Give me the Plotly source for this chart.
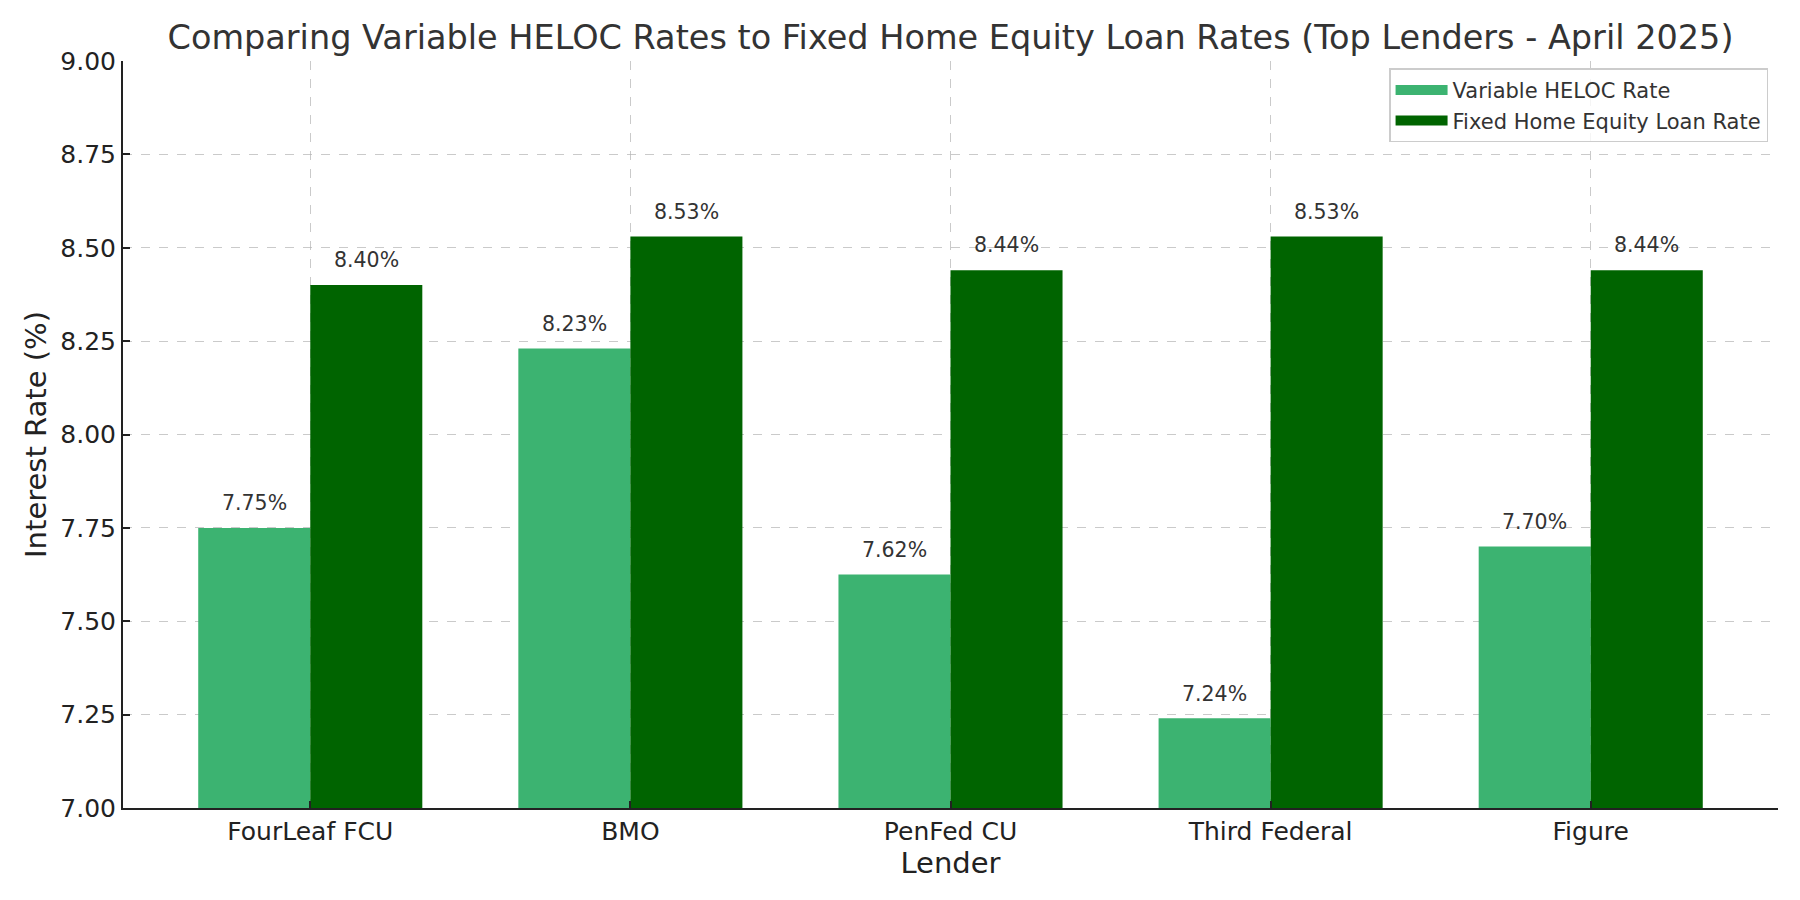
import plotly.graph_objects as go

lenders = ["FourLeaf FCU", "BMO", "PenFed CU", "Third Federal", "Figure"]
heloc_rates = [7.75, 8.23, 7.625, 7.24, 7.70]
fixed_rates = [8.40, 8.53, 8.44, 8.53, 8.44]
y_ticks = [7.00, 7.25, 7.50, 7.75, 8.00, 8.25, 8.50, 8.75, 9.00]
series_names = ["Variable HELOC Rate", "Fixed Home Equity Loan Rate"]
series_colors = ["#3CB371", "#006400"]

FONT = "DejaVu Sans"
bw = 0.35
xpos = list(range(len(lenders)))

fig = go.Figure()
fig.add_trace(go.Bar(x=xpos, y=heloc_rates, width=bw, offset=-bw, base=0,
                     marker=dict(color=series_colors[0], line=dict(width=0)),
                     name=series_names[0], showlegend=False))
fig.add_trace(go.Bar(x=xpos, y=fixed_rates, width=bw, offset=0, base=0,
                     marker=dict(color=series_colors[1], line=dict(width=0)),
                     name=series_names[1], showlegend=False))
# legend entries drawn as wide rectangular patches
for name, col in zip(series_names, series_colors):
    fig.add_trace(go.Scatter(x=[None], y=[None], mode="lines", name=name,
                             line=dict(color=col, width=15)))

for i, (h, f) in enumerate(zip(heloc_rates, fixed_rates)):
    for xv, v in ((i - bw / 2, h), (i + bw / 2, f)):
        fig.add_annotation(x=xv, y=v + 0.05, text=f"{v:.2f}%", showarrow=False,
                           xanchor="center", yanchor="bottom", yshift=-8,
                           font=dict(family=FONT, size=20.5, color="#333333"))

fig.update_layout(
    width=1800, height=900,
    margin=dict(l=123, r=22, t=61, b=92),
    paper_bgcolor="white", plot_bgcolor="white",
    barmode="overlay",
    font=dict(family=FONT, color="#222222"),
    title=dict(text="Comparing Variable HELOC Rates to Fixed Home Equity Loan Rates (Top Lenders - April 2025)",
               x=(123 + 1778) / 2 / 1800, xanchor="center", y=1 - 37 / 900, yanchor="middle",
               font=dict(family=FONT, size=33.5, color="#333333")),
    legend=dict(x=0.994, xanchor="right", y=0.99, yanchor="top",
                bgcolor="rgba(255,255,255,0.8)", bordercolor="#cccccc", borderwidth=1.5,
                font=dict(family=FONT, size=21, color="#333333"),
                itemwidth=52),
    showlegend=True,
)
fig.update_xaxes(
    range=[-0.585, 4.585], tickvals=xpos, ticktext=lenders,
    showline=True, linecolor="#222222", linewidth=2, mirror=False,
    ticks="inside", ticklen=7, tickwidth=1.5, tickcolor="#222222",
    tickfont=dict(family=FONT, size=25, color="#222222"),
    showgrid=True, gridcolor="rgba(180,180,180,0.7)", griddash="dash", gridwidth=1,
    layer="above traces", zeroline=False,
    title=dict(text="Lender", font=dict(family=FONT, size=29, color="#222222"), standoff=6),
)
fig.update_yaxes(
    range=[7.0, 9.0], tickvals=y_ticks, ticktext=[f"{v:.2f}" for v in y_ticks],
    showline=True, linecolor="#222222", linewidth=2,
    ticks="inside", ticklen=7, tickwidth=1.5, tickcolor="#222222",
    tickfont=dict(family=FONT, size=25, color="#222222"),
    showgrid=True, gridcolor="rgba(180,180,180,0.7)", griddash="dash", gridwidth=1,
    layer="above traces", zeroline=False,
    title=dict(text="Interest Rate (%)", font=dict(family=FONT, size=29, color="#222222"), standoff=5),
)

fig.write_html("out.html")
